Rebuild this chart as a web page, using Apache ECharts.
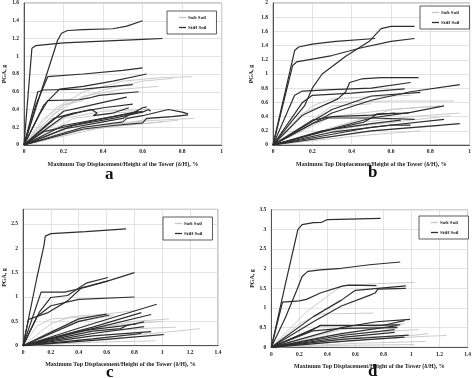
<!DOCTYPE html>
<html><head><meta charset="utf-8">
<script src="https://cdn.jsdelivr.net/npm/echarts@6/dist/echarts.min.js"></script>
<style>html,body{margin:0;padding:0;background:#fff}#c{width:474px;height:378px}</style>
</head><body><div id="c"></div>
<script>
// ---------- DATA ----------
const panelLetters = ['a', 'b', 'c', 'd'];
const seriesNames = ['Soft Soil', 'Stiff Soil'];
const xAxisTitle = 'Maximum Top Displacement/Height of the Tower (\u03b4/H), %';
const yAxisTitle = 'PGA, g';

// Panel a
const aStiff = [
  [[0,0],[0.17,1.18],[0.19,1.26],[0.22,1.29],[0.3,1.3],[0.45,1.31],[0.52,1.34],[0.6,1.4]],
  [[0,0],[0.04,1.09],[0.06,1.12],[0.2,1.15],[0.4,1.17],[0.6,1.19],[0.7,1.2]],
  [[0,0],[0.06,0.45],[0.12,0.77],[0.3,0.8],[0.5,0.84],[0.6,0.87]],
  [[0,0],[0.07,0.6],[0.1,0.62],[0.3,0.63],[0.55,0.68]],
  [[0,0],[0.1,0.45],[0.18,0.63],[0.3,0.66],[0.45,0.72],[0.62,0.8]],
  [[0,0],[0.08,0.35],[0.12,0.5],[0.28,0.51],[0.33,0.53],[0.38,0.56],[0.58,0.6]],
  [[0,0],[0.2,0.38],[0.3,0.43],[0.4,0.48],[0.52,0.54]],
  [[0,0],[0.15,0.3],[0.25,0.36],[0.4,0.42],[0.55,0.46]],
  [[0,0],[0.2,0.32],[0.3,0.38],[0.34,0.4],[0.37,0.36],[0.35,0.33],[0.45,0.36],[0.53,0.42]],
  [[0,0],[0.2,0.22],[0.4,0.3],[0.55,0.36],[0.6,0.42],[0.62,0.43]],
  [[0,0],[0.25,0.22],[0.45,0.3],[0.6,0.37],[0.63,0.4],[0.64,0.38]],
  [[0,0],[0.3,0.2],[0.5,0.26],[0.52,0.3],[0.6,0.33],[0.73,0.4],[0.8,0.37],[0.83,0.35]],
  [[0,0],[0.3,0.18],[0.45,0.22],[0.6,0.25],[0.62,0.3],[0.75,0.32],[0.83,0.34]],
  [[0,0],[0.2,0.18],[0.4,0.26],[0.5,0.3],[0.55,0.36],[0.6,0.38]],
  [[0,0],[0.1,0.15],[0.3,0.25],[0.45,0.32],[0.58,0.38]]
];
const aSoft = [
  [[0,0],[0.15,0.4],[0.3,0.6],[0.5,0.72],[0.7,0.76],[0.85,0.77]],
  [[0,0],[0.2,0.45],[0.4,0.62],[0.6,0.72],[0.75,0.75]],
  [[0,0],[0.15,0.35],[0.3,0.55],[0.5,0.63],[0.68,0.66]],
  [[0,0],[0.2,0.3],[0.4,0.38],[0.6,0.4],[0.63,0.41]],
  [[0,0],[0.3,0.2],[0.6,0.27],[0.86,0.3]],
  [[0,0],[0.3,0.17],[0.6,0.24],[0.78,0.28]],
  [[0,0],[0.2,0.15],[0.5,0.22],[0.7,0.26]],
  [[0,0],[0.25,0.3],[0.45,0.36],[0.6,0.38]],
  [[0,0],[0.1,0.3],[0.2,0.45],[0.3,0.5]],
  [[0,0],[0.4,0.2],[0.65,0.3],[0.8,0.33]]
];

// Panel b
const bStiff = [
  [[0,0],[0.11,1.33],[0.13,1.38],[0.2,1.42],[0.32,1.46],[0.52,1.5]],
  [[0,0],[0.1,1.12],[0.12,1.17],[0.3,1.26],[0.45,1.37],[0.6,1.46],[0.72,1.5]],
  [[0,0],[0.1,0.35],[0.16,0.55],[0.2,0.8],[0.25,1.0],[0.37,1.25],[0.49,1.46],[0.52,1.55],[0.55,1.64],[0.6,1.67],[0.72,1.67]],
  [[0,0],[0.15,0.42],[0.25,0.55],[0.33,0.65],[0.37,0.75],[0.39,0.88],[0.45,0.93],[0.55,0.95],[0.74,0.95]],
  [[0,0],[0.11,0.7],[0.15,0.76],[0.3,0.78],[0.5,0.8],[0.7,0.88]],
  [[0,0],[0.15,0.6],[0.2,0.7],[0.4,0.73],[0.67,0.79]],
  [[0,0],[0.3,0.45],[0.5,0.63],[0.7,0.75],[0.95,0.85]],
  [[0,0],[0.3,0.5],[0.5,0.69],[0.75,0.74]],
  [[0,0],[0.5,0.38],[0.7,0.46],[0.87,0.55]],
  [[0,0],[0.3,0.22],[0.46,0.32],[0.5,0.38],[0.53,0.44],[0.69,0.45]],
  [[0,0],[0.2,0.3],[0.28,0.38],[0.5,0.38],[0.72,0.36]],
  [[0,0],[0.5,0.2],[0.95,0.3]],
  [[0,0],[0.5,0.25],[0.87,0.36]],
  [[0,0],[0.3,0.18],[0.6,0.28],[0.7,0.28]],
  [[0,0],[0.25,0.2],[0.5,0.3],[0.65,0.35]],
  [[0,0],[0.2,0.35],[0.3,0.4],[0.5,0.42],[0.62,0.45]]
];
const bSoft = [
  [[0,0],[0.2,0.55],[0.3,0.65],[0.5,0.68],[0.7,0.7]],
  [[0,0],[0.15,0.45],[0.3,0.6],[0.6,0.62],[0.92,0.62]],
  [[0,0],[0.3,0.4],[0.6,0.5],[0.85,0.55]],
  [[0,0],[0.4,0.3],[0.7,0.4],[0.95,0.45]],
  [[0,0],[0.4,0.25],[0.7,0.35],[0.9,0.41]],
  [[0,0],[0.5,0.2],[0.85,0.27]],
  [[0,0],[0.4,0.12],[0.75,0.2]],
  [[0,0],[0.2,0.35],[0.3,0.55],[0.5,0.58]],
  [[0,0],[0.55,0.45],[0.6,0.5],[0.85,0.55]]
];

// Panel c
const cStiff = [
  [[0,0],[0.1,1.4],[0.15,2.05],[0.16,2.25],[0.2,2.3],[0.45,2.34],[0.74,2.4]],
  [[0,0],[0.13,1.1],[0.3,1.1],[0.45,1.2],[0.6,1.32],[0.8,1.5]],
  [[0,0],[0.12,0.7],[0.2,0.99],[0.32,1.03],[0.42,1.22],[0.46,1.29],[0.61,1.4]],
  [[0,0],[0.04,0.54],[0.18,0.68],[0.32,0.92],[0.42,1.19],[0.61,1.33]],
  [[0,0],[0.1,0.6],[0.2,0.82],[0.4,0.95],[0.8,1.0]],
  [[0,0],[0.5,0.45],[0.96,0.85]],
  [[0,0],[0.5,0.38],[0.85,0.68]],
  [[0,0],[0.4,0.55],[0.6,0.65]],
  [[0,0],[0.4,0.5],[0.62,0.63]],
  [[0,0],[0.5,0.35],[0.92,0.64]],
  [[0,0],[0.5,0.3],[0.7,0.35],[0.75,0.42],[0.87,0.49]],
  [[0,0],[0.5,0.25],[0.87,0.39]],
  [[0,0],[0.5,0.2],[0.92,0.29]],
  [[0,0],[0.5,0.14],[0.85,0.25]],
  [[0,0],[0.6,0.13],[1.01,0.23]],
  [[0,0],[0.4,0.3],[0.7,0.4],[0.82,0.45]]
];
const cSoft = [
  [[0,0],[0.2,0.45],[0.35,0.6],[0.6,0.65],[0.8,0.72]],
  [[0,0],[0.2,0.3],[0.4,0.5],[0.65,0.62]],
  [[0,0],[0.5,0.35],[0.8,0.5],[1.05,0.55]],
  [[0,0],[0.6,0.3],[0.9,0.36],[1.1,0.38]],
  [[0,0],[0.7,0.2],[1.0,0.27],[1.27,0.35]],
  [[0,0],[0.5,0.13],[1.02,0.22]],
  [[0,0],[0.5,0.07],[0.95,0.1]],
  [[0,0],[0.1,0.4],[0.2,0.55],[0.5,0.6]],
  [[0,0],[0.6,0.4],[1.0,0.5]]
];

// Panel d
const dStiff = [
  [[0,0],[0.1,1.6],[0.19,3.0],[0.22,3.12],[0.3,3.17],[0.36,3.18],[0.4,3.25],[0.78,3.28]],
  [[0,0],[0.1,0.75],[0.18,1.44],[0.22,1.8],[0.26,1.93],[0.35,1.97],[0.5,2.01],[0.7,2.1],[0.92,2.17]],
  [[0,0],[0.08,1.15],[0.2,1.18],[0.25,1.22],[0.35,1.38],[0.5,1.55],[0.55,1.58],[0.75,1.57]],
  [[0,0],[0.3,0.78],[0.5,1.2],[0.6,1.45],[0.96,1.56]],
  [[0,0],[0.3,0.65],[0.5,1.05],[0.7,1.32],[0.74,1.38],[0.76,1.48],[0.96,1.5]],
  [[0,0],[0.5,0.5],[0.75,0.65],[0.99,0.71]],
  [[0,0],[0.35,0.55],[0.8,0.56],[0.95,0.68]],
  [[0,0],[0.3,0.45],[0.35,0.56],[0.6,0.56],[0.92,0.57]],
  [[0,0],[0.5,0.35],[0.9,0.55]],
  [[0,0],[0.5,0.3],[0.88,0.45]],
  [[0,0],[0.5,0.25],[0.88,0.38]],
  [[0,0],[0.5,0.2],[0.98,0.31]],
  [[0,0],[0.5,0.15],[0.95,0.26]],
  [[0,0],[0.3,0.42],[0.5,0.48],[0.9,0.5]]
];
const dSoft = [
  [[0,0],[0.25,0.9],[0.4,1.3],[0.51,1.57],[0.75,1.62],[1.02,1.65]],
  [[0,0],[0.2,0.6],[0.35,0.85],[0.73,0.87]],
  [[0,0],[0.5,0.45],[0.8,0.55],[0.95,0.6]],
  [[0,0],[0.6,0.25],[1.0,0.3],[1.12,0.35]],
  [[0,0],[0.7,0.2],[1.1,0.28],[1.25,0.3]],
  [[0,0],[0.6,0.1],[1.1,0.15]],
  [[0,0],[0.5,0.05],[1.02,0.07]],
  [[0,0],[0.4,0.3],[0.8,0.4],[1.05,0.45]]
];

// Axis ranges
const xMax = [1, 1, 1.4, 1.4];
const yMax = [1.6, 2, 2.8, 3.5];
const yStep = [0.2, 0.2, 0.5, 0.5];

// ---------- LAYOUT / STYLE ----------
const FONT = 'Liberation Serif';
const grids = [
  {left: 21.7, top: 1, width: 200, height: 144},
  {left: 273, top: 1.7, width: 199, height: 143.3},
  {left: 21.7, top: 209.3, width: 196.3, height: 136.4},
  {left: 271.3, top: 209.7, width: 197.4, height: 137.6}
];
const yNameGap = [17, 19, 16, 15];
const legendPos = [
  {left: 167, top: 11}, {left: 420, top: 6}, {left: 163, top: 217}, {left: 419, top: 216}
];
const letterPos = [[110, 175], [373, 173], [111, 373], [373, 372]];
const softColor = '#c6c6c6';
const stiffColor = '#2e2e2e';

const stiffSets = [aStiff, bStiff, cStiff, dStiff];
const softSets = [aSoft, bSoft, cSoft, dSoft];

const xAxes = [], yAxes = [], series = [], legends = [], graphics = [];
for (let i = 0; i < 4; i++) {
  xAxes.push({
    type: 'value', gridIndex: i, min: 0, max: xMax[i], interval: 0.2,
    name: xAxisTitle, nameLocation: 'middle', nameGap: 16,
    nameTextStyle: {fontFamily: FONT, fontWeight: 'bold', fontSize: 6, color: '#222'},
    axisLine: {show: true, lineStyle: {color: '#555', width: 1}},
    axisTick: {show: false},
    axisLabel: {fontFamily: FONT, fontWeight: 'bold', fontSize: 5.5, color: '#222', margin: 4,
      formatter: v => String(+v.toFixed(2))},
    splitLine: {show: true, lineStyle: {color: '#dcdcdc', width: 0.8}}
  });
  yAxes.push({
    type: 'value', gridIndex: i, min: 0, max: yMax[i], interval: yStep[i],
    name: yAxisTitle, nameLocation: 'middle', nameGap: yNameGap[i], nameRotate: 90,
    nameTextStyle: {fontFamily: FONT, fontWeight: 'bold', fontSize: 6, color: '#222'},
    axisLine: {show: true, lineStyle: {color: '#555', width: 1}},
    axisTick: {show: false},
    axisLabel: {fontFamily: FONT, fontWeight: 'bold', fontSize: 5.5, color: '#222', margin: 5,
      showMaxLabel: i !== 2,
      formatter: v => String(+v.toFixed(2))},
    splitLine: {show: true, lineStyle: {color: '#dcdcdc', width: 0.8}}
  });
  softSets[i].forEach(d => series.push({
    type: 'line', name: seriesNames[0], xAxisIndex: i, yAxisIndex: i, data: d,
    showSymbol: false, symbol: 'none', silent: true, z: 2,
    color: softColor, lineStyle: {color: softColor, width: 0.9}
  }));
  stiffSets[i].forEach(d => series.push({
    type: 'line', name: seriesNames[1], xAxisIndex: i, yAxisIndex: i, data: d,
    showSymbol: false, symbol: 'none', silent: true, z: 3,
    color: stiffColor, lineStyle: {color: stiffColor, width: 1.2}
  }));
  legends.push({
    left: legendPos[i].left, top: legendPos[i].top, orient: 'vertical',
    data: seriesNames, icon: 'rect', itemWidth: 7, itemHeight: 1.3, itemGap: 5,
    padding: [4, 10, 4, 12], borderColor: '#333', borderWidth: 0.8, backgroundColor: '#fff',
    textStyle: {fontFamily: FONT, fontWeight: 'bold', fontSize: 5, color: '#222', padding: [0, 0, 0, -3]}
  });
  graphics.push({
    type: 'text', left: letterPos[i][0] - 5, top: letterPos[i][1] - 9,
    style: {text: panelLetters[i], font: 'bold 17px "Liberation Serif"', fill: '#111'}
  });
}

const chart = echarts.init(document.getElementById('c'), null, {renderer: 'canvas'});
chart.setOption({
  animation: false,
  backgroundColor: '#fff',
  grid: grids.map(g => Object.assign({show: true, borderColor: '#999', borderWidth: 1, containLabel: false}, g)),
  xAxis: xAxes, yAxis: yAxes, series: series, legend: legends, graphic: graphics
});
</script></body></html>
